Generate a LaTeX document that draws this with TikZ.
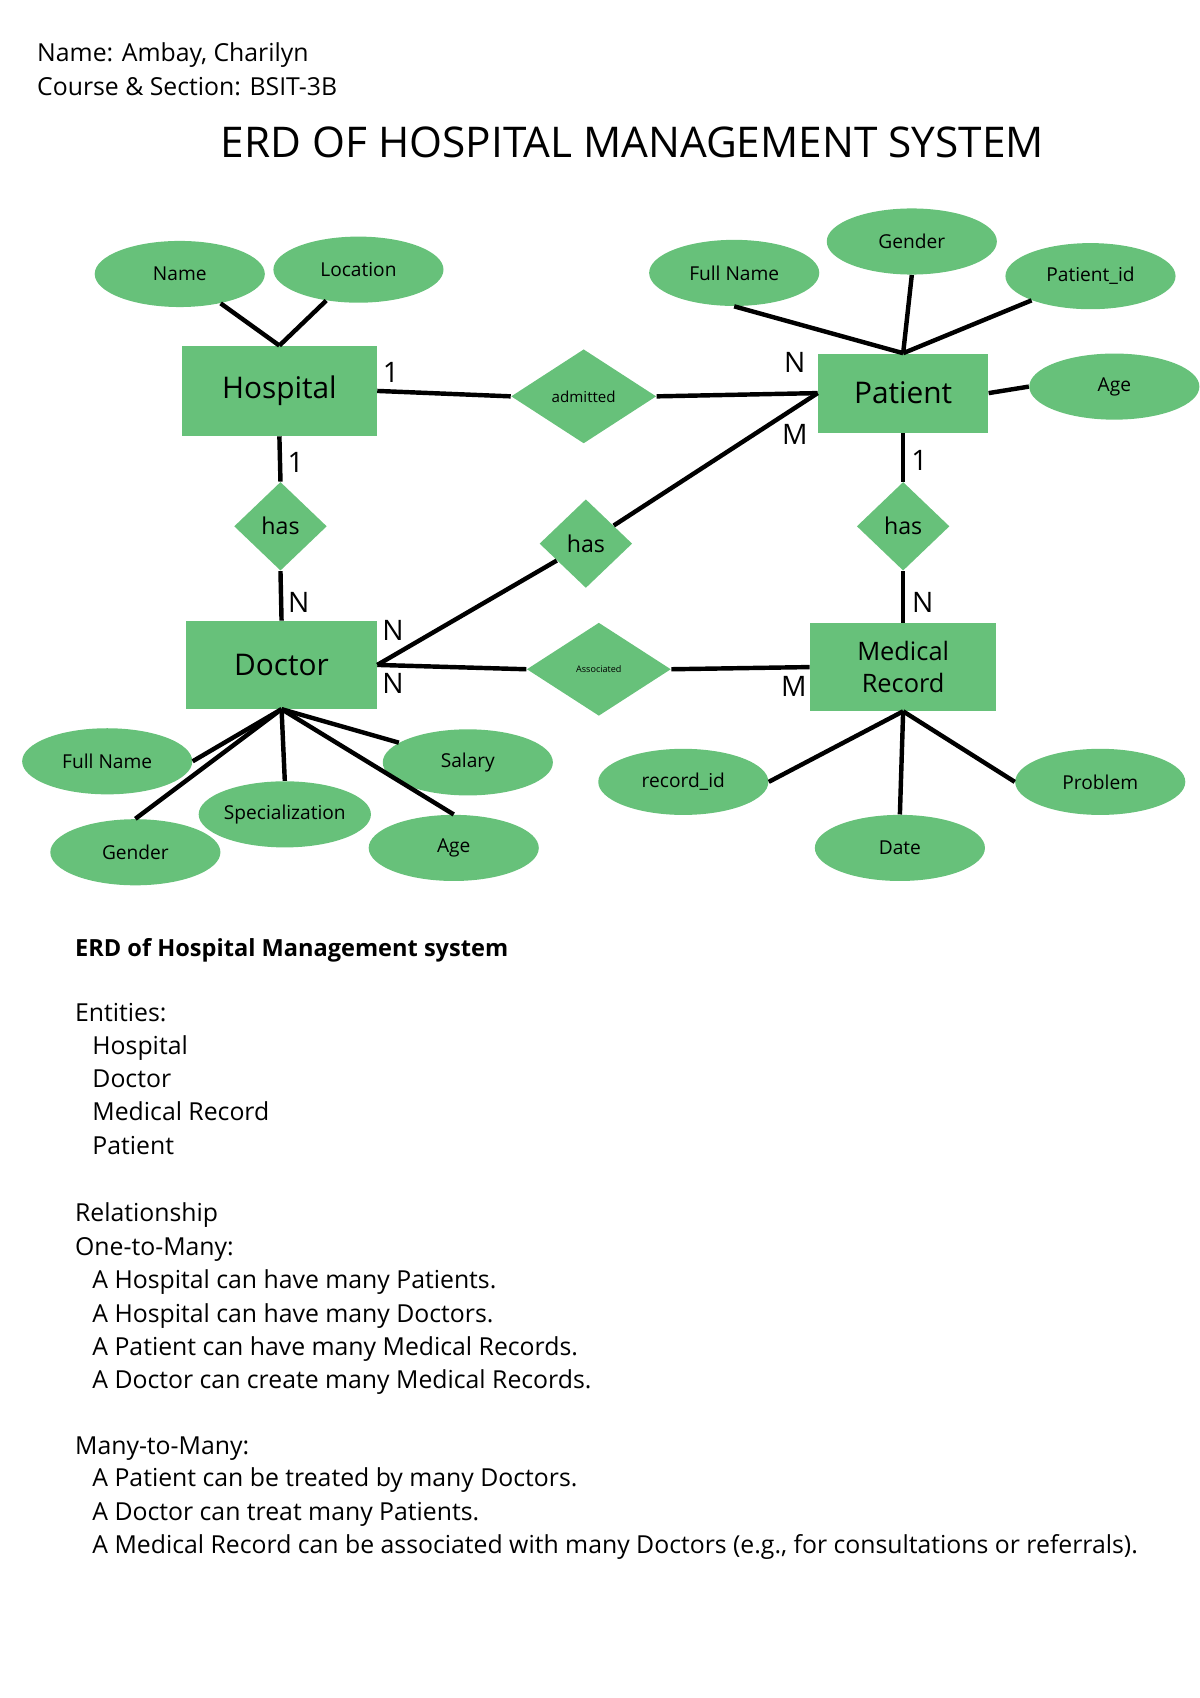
\documentclass[tikz,border=0pt]{standalone}
\usepackage{fontspec}
\setmainfont{Open Sans}
\usetikzlibrary{positioning}
\usetikzlibrary{shapes.geometric}

\definecolor{erdgreen}{RGB}{103,193,122}

\begin{document}
\begin{tikzpicture}[x=0.5373pt,y=-0.5373pt,
  entity/.style={fill=erdgreen,inner sep=0pt,align=center,font=\fontsize{14.8}{17}\selectfont},
  rel/.style={diamond,fill=erdgreen,inner sep=0pt,minimum width=46pt,minimum height=44pt,font=\fontsize{11.5}{13}\selectfont},
  attr/.style={ellipse,fill=erdgreen,inner sep=0pt,minimum width=84.4pt,minimum height=32.8pt,font=\fontsize{9.5}{11}\selectfont},
  card/.style={font=\fontsize{14}{16}\selectfont},
  link/.style={line width=2.2pt},
  txt/.style={anchor=base west,inner sep=0pt,font=\fontsize{12.3}{14}\selectfont}]
\useasboundingbox (0,0) rectangle (1108,1568);

% header
\node[txt] (who) at (34,57) {Name: Ambay, Charilyn};
\node[txt] (course) at (34,88) {Course \& Section: BSIT-3B};
\node[font=\fontsize{21}{25}\selectfont] (title) at (584,131) {ERD OF HOSPITAL MANAGEMENT SYSTEM};

% entities
\node[entity,minimum width=96.7pt,minimum height=44.6pt] (hosp) at (258,361) {Hospital};
\node[entity,minimum width=84.4pt,minimum height=39.2pt] (pat) at (834,363) {Patient};
\node[entity,minimum width=94.6pt,minimum height=43.5pt] (doc) at (260,614) {Doctor};
\node[entity,minimum width=92.4pt,minimum height=43.5pt,font=\fontsize{12.6}{16}\selectfont] (rec) at (834,616) {Medical\\Record};

% relationships
\node[rel,minimum width=72pt,minimum height=46.7pt,font=\fontsize{7.5}{9}\selectfont] (adm) at (539,366) {admitted};
\node[rel] (hashd) at (259,486) {has};
\node[rel] (hasdp) at (541,502) {has};
\node[rel] (haspr) at (834,486) {has};
\node[rel,minimum width=71.5pt,minimum height=46.2pt,font=\fontsize{4.5}{5}\selectfont] (assoc) at (553,618) {Associated};

% attributes
\node[attr] (hname) at (166,253) {Name};
\node[attr] (hloc) at (331,249) {Location};
\node[attr] (pfull) at (678,252) {Full Name};
\node[attr] (pgen) at (842,223) {Gender};
\node[attr] (pid) at (1007,255) {Patient\_id};
\node[attr] (page) at (1029,357) {Age};
\node[attr] (dfull) at (99,703) {Full Name};
\node[attr] (dgen) at (125,787) {Gender};
\node[attr] (dspec) at (263,752) {Specialization};
\node[attr] (dsal) at (432,704) {Salary};
\node[attr] (dage) at (419,783) {Age};
\node[attr] (rid) at (631,722) {record\_id};
\node[attr] (rdate) at (831,783) {Date};
\node[attr] (rprob) at (1016,722) {Problem};

% connectors
\draw[link] (hosp.north) -- (hname);
\draw[link] (hosp.north) -- (hloc);
\draw[link] (hosp.east) -- (adm.west);
\draw[link] (adm.east) -- (pat.west);
\draw[link] (hosp.south) -- (hashd.north);
\draw[link] (hashd.south) -- (doc.north);
\draw[link] (pat.south) -- (haspr.north);
\draw[link] (haspr.south) -- (rec.north);
\draw[link] (pat.west) -- (hasdp);
\draw[link] (hasdp) -- (doc.east);
\draw[link] (doc.east) -- (assoc.west);
\draw[link] (assoc.east) -- (rec.west);
\draw[link] (pat.north) -- (pfull.south);
\draw[link] (pat.north) -- (pgen.south);
\draw[link] (pat.north) -- (pid);
\draw[link] (pat.east) -- (page.west);
\draw[link] (doc.south) -- (dfull.east);
\draw[link] (doc.south) -- (dgen.north);
\draw[link] (doc.south) -- (dspec.north);
\draw[link] (doc.south) -- (dsal);
\draw[link] (doc.south) -- (dage.north);
\draw[link] (rec.south) -- (rid.east);
\draw[link] (rec.south) -- (rdate.north);
\draw[link] (rec.south) -- (rprob.west);

% cardinalities
\node[card] (c1) at (361,344) {1};
\node[card] (c2) at (734,335) {N};
\node[card] (c3) at (273,427) {1};
\node[card] (c4) at (276,556) {N};
\node[card] (c5) at (849,425) {1};
\node[card] (c6) at (852,556) {N};
\node[card] (c7) at (734,401) {M};
\node[card] (c8) at (363,582) {N};
\node[card] (c9) at (363,631) {N};
\node[card] (c10) at (733,634) {M};

% description
\node[txt,font=\bfseries\fontsize{11.7}{14}\selectfont] (head) at (69,883) {ERD of Hospital Management system};
\node[txt] (ent) at (69,943) {Entities:};
\node[txt] (e1) at (85,974) {Hospital};
\node[txt] (e2) at (85,1004) {Doctor};
\node[txt] (e3) at (85,1035) {Medical Record};
\node[txt] (e4) at (85,1066) {Patient};
\node[txt] (relh) at (69,1128) {Relationship};
\node[txt] (otm) at (69,1159) {One-to-Many:};
\node[txt] (o1) at (85,1190) {A Hospital can have many Patients.};
\node[txt] (o2) at (85,1221) {A Hospital can have many Doctors.};
\node[txt] (o3) at (85,1252) {A Patient can have many Medical Records.};
\node[txt] (o4) at (85,1282) {A Doctor can create many Medical Records.};
\node[txt] (mtm) at (69,1343) {Many-to-Many:};
\node[txt] (m1) at (85,1373) {A Patient can be treated by many Doctors.};
\node[txt] (m2) at (85,1404) {A Doctor can treat many Patients.};
\node[txt] (m3) at (85,1435) {A Medical Record can be associated with many Doctors (e.g., for consultations or referrals).};
\end{tikzpicture}
\end{document}
